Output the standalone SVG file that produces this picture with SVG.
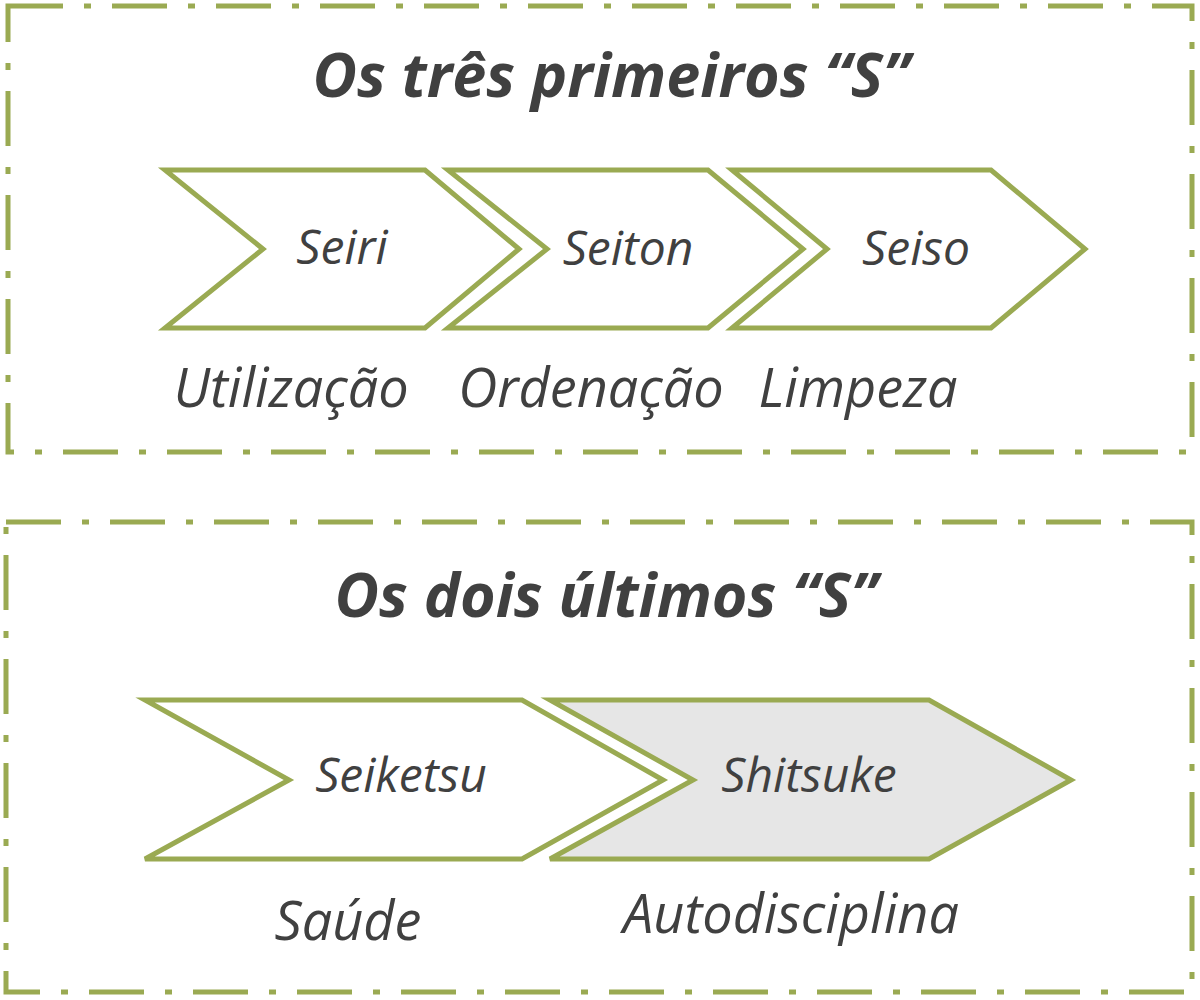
<svg xmlns="http://www.w3.org/2000/svg" width="1200" height="1000" viewBox="0 0 1200 1000">
<style>
.frame{fill:none;stroke:#9AAA52;stroke-width:5;stroke-dasharray:55 21 7 21}
.chev{fill:#FFFFFF;stroke:#9AAA52;stroke-width:5;stroke-linejoin:miter}
.chev.gray{fill:#E6E6E6}
.title{font-family:"Open Sans","Liberation Sans",sans-serif;font-weight:700;font-style:italic;font-size:61px;fill:#404040;text-anchor:middle}
.lab{font-family:"Open Sans","Liberation Sans",sans-serif;font-style:italic;font-size:48px;fill:#404040;text-anchor:middle}
.sub{font-family:"Open Sans","Liberation Sans",sans-serif;font-style:italic;font-size:54px;fill:#404040;text-anchor:middle}
</style>
<rect width="1200" height="1000" fill="#FFFFFF"/>
<g id="frame-top"><rect class="frame" x="8" y="6" width="1184" height="446"/></g>
<g id="frame-bottom"><rect class="frame" x="6" y="522" width="1186" height="470"/></g>
<text id="title-top" class="title" x="611" y="97">Os três primeiros “S”</text>
<text id="title-bottom" class="title" x="606" y="617">Os dois últimos “S”</text>
<g id="seiri">
<polygon class="chev" points="165,170 425,170 519,249 425,328 165,328 263,249"/>
<text class="lab" x="342" y="264">Seiri</text>
<text class="sub" x="291" y="407">Utilização</text>
</g>
<g id="seiton">
<polygon class="chev" points="448,170 708,170 803,249 708,328 448,328 547,249"/>
<text class="lab" x="628" y="265">Seiton</text>
<text class="sub" x="591" y="407">Ordenação</text>
</g>
<g id="seiso">
<polygon class="chev" points="732,170 991,170 1085,249 991,328 732,328 827,249"/>
<text class="lab" x="916" y="265">Seiso</text>
<text class="sub" x="858" y="407">Limpeza</text>
</g>
<g id="seiketsu">
<polygon class="chev" points="145,700 522,700 663,780 522,859 145,859 289,780"/>
<text class="lab" x="401" y="792">Seiketsu</text>
<text class="sub" x="348" y="940">Saúde</text>
</g>
<g id="shitsuke">
<polygon class="chev gray" points="550,700 929,700 1071,780 929,859 550,859 693,780"/>
<text class="lab" x="809" y="792">Shitsuke</text>
<text class="sub" x="791" y="933">Autodisciplina</text>
</g>
<g id="connectors"/>
</svg>
